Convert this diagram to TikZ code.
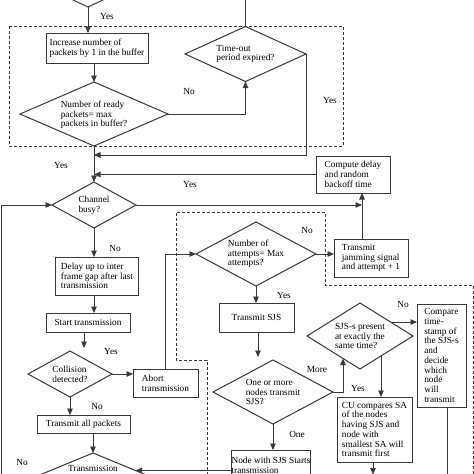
\documentclass[tikz,border=0pt]{standalone}
\usepackage{fontspec}
\setmainfont{Liberation Serif}
\usetikzlibrary{shapes.geometric,arrows.meta,calc}
\definecolor{lc}{HTML}{3A3A3A}
\begin{document}
\begin{tikzpicture}[x=1pt,y=-1pt,
 ln/.style={draw=lc, line width=0.9pt},
 arr/.style={ln, -{Triangle[length=6.5pt,width=5.5pt]}},
 box/.style={draw=lc, line width=1pt, rectangle, inner sep=0pt, outer sep=0pt, align=left, font=\fontsize{9.3}{9.7}\selectfont},
 dia/.style={draw=lc, line width=1pt, diamond, inner sep=0pt, outer sep=0pt},
 txt/.style={inner sep=0pt, align=left, font=\fontsize{9.3}{9.7}\selectfont},
 dsh/.style={draw=lc, line width=0.9pt, dash pattern=on 3pt off 2pt},
]
\useasboundingbox (0,0) rectangle (474,474);
\fill[white] (0,0) rectangle (474,474);
\clip (0,0) rectangle (474,474);

% dashed regions
\draw[dsh] (9,26) rectangle (343,146);
\draw[dsh] (207,480) -- (207,360) -- (176,360) -- (176,212) -- (325,212) -- (325,285) -- (473,285) -- (473,480);

% boxes
\node[box, minimum width=102pt, minimum height=30pt] (inc) at (97,48) {Increase number of\\packets by 1 in the buffer};
\node[box, minimum width=74pt, minimum height=37pt] (comp) at (353,174.5) {Compute delay\\and random\\backoff time};
\node[box, minimum width=83pt, minimum height=38pt] (delay) at (97,276) {Delay up to inter\\frame gap after last\\transmission};
\node[box, minimum width=74pt, minimum height=38pt] (jam) at (371,258) {Transmit\\jamming signal\\and attempt + 1};
\node[box, minimum width=84pt, minimum height=19pt] (start) at (88,322.5) {Start transmission};
\node[box, minimum width=75pt, minimum height=29pt] (tsjs) at (256.5,317.5) {Transmit SJS};
\node[box, minimum width=65pt, minimum height=28pt] (abort) at (165.5,383) {Abort\\transmission};
\node[box, minimum width=93pt, minimum height=18pt] (tall) at (83.5,424) {Transmit all packets};
\node[box, minimum width=75pt, minimum height=65pt] (cu) at (374.5,429.5) {CU compares SA\\of the nodes\\having SJS and\\node with\\smallest SA will\\transmit first};
\node[box, minimum width=49pt, minimum height=103pt] (cmp) at (441.5,355.5) {Compare\\time-\\stamp of\\the SJS-s\\and\\decide\\which\\node\\will\\transmit};
\node[box, minimum width=78pt, minimum height=30pt] (nbox) at (271,465) {Node with SJS Starts\\transmission};

% diamonds
\node[dia, minimum width=72pt, minimum height=34pt] (tdia) at (88,-10) {};
\node[dia, minimum width=121pt, minimum height=55pt] (tout) at (245.5,54) {};
\node[txt] (touttx) at (tout) {Time-out\\period expired?};
\node[dia, minimum width=148pt, minimum height=64pt] (rdy) at (94,114) {};
\node[txt] (rdytx) at (94,115) {Number of ready\\packets= max\\packets in buffer?};
\node[dia, minimum width=84pt, minimum height=46pt] (busy) at (94,205) {};
\node[txt] (busytx) at (busy) {Channel\\busy?};
\node[dia, minimum width=84pt, minimum height=46pt] (coll) at (70,374) {};
\node[txt] (colltx) at (coll) {Collision\\detected?};
\node[dia, minimum width=120pt, minimum height=64pt] (att) at (256,254) {};
\node[txt] (atttx) at (att) {Number of\\attempts= Max\\attempts?};
\node[dia, minimum width=120pt, minimum height=64pt] (one) at (273,392) {};
\node[txt] (onetx) at (one) {One or more\\nodes transmit\\SJS?};
\node[dia, minimum width=106pt, minimum height=66pt] (sjs) at (360,336) {};
\node[txt] (sjstx) at (sjs) {SJS-s present\\at exactly the\\same time?};
\node[dia, minimum width=170pt, minimum height=70pt] (trans) at (93,488) {};
\node[txt] (transtx) at (93,468.5) {Transmission};

% connectors
\coordinate (topin) at (245.5,0);
\draw[ln] (topin) -- (tout.north);
\draw[arr] (tdia.south) -- (tdia.south |- inc.north);
\draw[arr] (inc.south -| rdy.north) -- (rdy.north);
\draw[arr] (rdy.east) -| (tout.south);
\coordinate (j1) at (94,155);
\coordinate (j2) at (94,165);
\draw[arr] (tout.east) |- (j1);
\draw[arr] (comp.west) -- (comp.west -| j2);
\draw[arr] (rdy.south) -- (busy.north);
\coordinate (jt) at ($(jam.north)+(-9,0)$);
\draw[arr] (jt) -- (jt |- comp.south);
\draw[arr] (busy.east) -- (busy.east -| jt);
\draw[arr] (busy.south) -- (delay.north -| busy.south);
\draw[arr] (delay.south -| busy.south) -- (start.north -| busy.south);
\coordinate (cs) at ($(start.south)+(-4,0)$);
\draw[arr] (cs) -- ++(0,16);
\draw[arr] (coll.east) -- (coll.east -| abort.west);
\draw[arr] (abort.north) |- (att.west);
\draw[arr] (coll.south) -- (coll.south |- tall.north);
\draw[arr] (tall.south -| trans.north) -- (trans.north);
\coordinate (lp) at (1.5,205);
\draw[arr] (trans.west) -| (lp) -- (busy.west);
\draw[arr] (att.east) -- (att.east -| jam.west);
\draw[arr] (att.south) -- (att.south |- tsjs.north);
\coordinate (ts) at ($(tsjs.south)+(1.5,0)$);
\draw[arr] (ts) -- ++(0,25);
\coordinate (mup) at (343,358.5);
\draw[arr] (one.east) -| (mup);
\coordinate (ys) at (381,355);
\draw[arr] (ys) -- (ys |- cu.north);
\coordinate (ns) at (392,322);
\draw[arr] (ns) -- (ns -| cmp.west);
\draw[arr] (one.south) -- (one.south |- nbox.north);
\draw[arr] (nbox.west |- trans.north east) -- (trans.north east);
\coordinate (cub) at ($(cu.south)+(-1.5,0)$);
\draw[arr] (cub) -- ++(0,12.5);
\coordinate (cmb) at ($(cmp.south)+(5.5,0)$);
\draw[ln] (cmb) -- ++(0,80);

% labels
\node[txt] (l1) at (107,16) {Yes};
\node[txt] (l2) at (189,91) {No};
\node[txt] (l3) at (330,100) {Yes};
\node[txt] (l4) at (61,165) {Yes};
\node[txt] (l5) at (190,184) {Yes};
\node[txt] (l6) at (115,248) {No};
\node[txt] (l7) at (307,230) {No};
\node[txt] (l8) at (284,295) {Yes};
\node[txt] (l9) at (111,351) {Yes};
\node[txt] (l10) at (97,406) {No};
\node[txt] (l11) at (22,462) {No};
\node[txt] (l12) at (403,304) {No};
\node[txt] (l13) at (317,369) {More};
\node[txt] (l14) at (358,388) {Yes};
\node[txt] (l15) at (297,434) {One};
\end{tikzpicture}
\end{document}
